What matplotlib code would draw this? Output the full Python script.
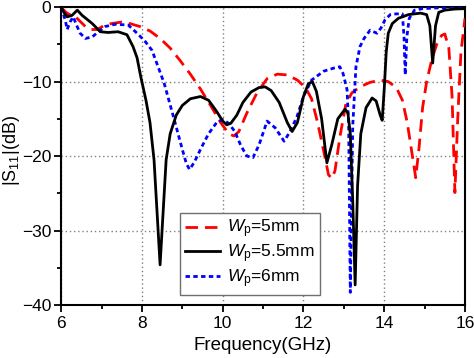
import matplotlib
matplotlib.use("Agg")
import matplotlib.pyplot as plt
from matplotlib.ticker import MultipleLocator

plt.rcParams['font.family'] = ['Liberation Sans', 'DejaVu Sans']
plt.rcParams['mathtext.fontset'] = 'custom'
plt.rcParams['mathtext.it'] = 'Liberation Sans:italic'
plt.rcParams['mathtext.rm'] = 'Liberation Sans'

# Wp = 5 mm (red dashed)
freq_5 = [6.0, 6.1, 6.2, 6.3, 6.45, 6.6, 6.75, 6.9, 7.05, 7.25, 7.5, 7.7, 7.95, 8.2,
          8.45, 8.7, 8.95, 9.2, 9.45, 9.7, 9.95, 10.15, 10.28, 10.4, 10.6, 10.85,
          11.1, 11.35, 11.6, 11.85, 12.05, 12.2, 12.35, 12.5, 12.62, 12.7, 12.78,
          12.9, 13.05, 13.2, 13.4, 13.65, 13.9, 14.1, 14.3, 14.45, 14.57, 14.67,
          14.78, 14.86, 14.95, 15.05, 15.18, 15.3, 15.42, 15.5, 15.6, 15.68, 15.75,
          15.82, 15.9, 16.0]
s11_5 = [0, -0.6, -1.0, -1.0, -1.8, -2.6, -3.0, -3.0, -2.5, -2.2, -2.0, -2.2, -2.6,
         -3.2, -4.2, -5.5, -7.2, -9.0, -11.0, -13.2, -15.5, -17.0, -17.3, -16.7,
         -14.2, -11.5, -9.6, -9.0, -9.1, -9.8, -10.8, -12.3, -15.5, -19.3, -22.5,
         -23.0, -22.0, -17.5, -13.0, -11.5, -10.7, -10.1, -9.8, -10.0, -10.8, -12.5,
         -15.5, -19.0, -22.9, -19.0, -13.5, -10.0, -7.0, -5.0, -3.8, -3.6, -5.5,
         -12.0, -24.9, -15.0, -6.0, -1.5]

# Wp = 5.5 mm (black solid)
freq_55 = [6.0, 6.08, 6.15, 6.27, 6.4, 6.52, 6.77, 6.97, 7.16, 7.41, 7.63, 7.78,
           7.88, 7.97, 8.1, 8.2, 8.3, 8.38, 8.45, 8.52, 8.6, 8.7, 8.85, 9.0, 9.2,
           9.45, 9.65, 9.85, 10.0, 10.1, 10.2, 10.35, 10.5, 10.7, 10.9, 11.05, 11.2,
           11.4, 11.6, 11.72, 11.85, 12.0, 12.12, 12.22, 12.32, 12.45, 12.58, 12.7,
           12.85, 13.03, 13.1, 13.16, 13.22, 13.28, 13.34, 13.42, 13.55, 13.7, 13.8,
           13.9, 13.95, 14.0, 14.05, 14.1, 14.2, 14.35, 14.6, 14.9, 15.05, 15.13,
           15.2, 15.27, 15.35, 15.5, 15.75, 16.0]
s11_55 = [0, -0.8, -1.3, -1.1, -0.4, -1.1, -2.2, -3.3, -3.4, -3.3, -3.7, -5.3, -6.8,
          -9.3, -12.5, -15.5, -20.5, -28.0, -34.6, -28.0, -20.5, -17.0, -14.5,
          -13.2, -12.3, -12.0, -12.5, -14.0, -15.3, -15.8, -15.6, -14.5, -12.8,
          -11.4, -10.8, -10.7, -11.2, -12.8, -15.5, -16.7, -15.5, -12.0, -10.3,
          -10.0, -11.3, -15.0, -20.9, -18.5, -15.0, -13.7, -14.2, -17.0, -26.0,
          -37.3, -24.0, -17.0, -13.5, -12.2, -12.6, -14.5, -15.2, -11.0, -6.0, -3.5,
          -2.2, -1.5, -1.0, -0.8, -1.0, -2.5, -7.5, -2.5, -0.7, -0.4, -0.25, -0.2]

# Wp = 6 mm (blue dotted)
freq_6 = [6.0, 6.1, 6.15, 6.22, 6.3, 6.38, 6.47, 6.6, 6.77, 6.92, 7.09, 7.34, 7.66,
          7.88, 8.08, 8.25, 8.4, 8.55, 8.78, 9.0, 9.1, 9.18, 9.3, 9.45, 9.65, 9.85,
          10.0, 10.15, 10.3, 10.45, 10.6, 10.75, 10.9, 11.1, 11.3, 11.52, 11.67,
          11.84, 12.0, 12.2, 12.5, 12.74, 12.9, 12.98, 13.08, 13.12, 13.16, 13.22,
          13.3, 13.4, 13.5, 13.65, 13.82, 13.92, 14.02, 14.15, 14.3, 14.45, 14.49,
          14.52, 14.56, 14.62, 14.75, 14.95, 15.3, 16.0]
s11_6 = [0, -1.7, -3.0, -2.0, -1.3, -2.4, -3.5, -4.2, -4.0, -3.3, -2.6, -2.3, -2.4,
         -3.5, -4.6, -5.8, -8.0, -10.2, -14.7, -19.1, -21.0, -21.8, -20.8, -19.1,
         -17.0, -15.5, -15.1, -15.6, -16.7, -18.6, -20.0, -20.2, -18.5, -15.3,
         -16.2, -18.0, -16.7, -14.7, -12.0, -9.8, -8.6, -8.2, -8.0, -8.9, -11.1,
         -16.0, -38.3, -16.0, -8.0, -5.3, -4.2, -3.1, -3.5, -2.8, -1.7, -1.0, -0.9,
         -0.9, -4.0, -9.1, -4.0, -1.5, -0.4, -0.2, -0.1, -0.1]

labels = [r'$W_{\mathrm{p}}$=5mm', r'$W_{\mathrm{p}}$=5.5mm', r'$W_{\mathrm{p}}$=6mm']
x_ticks = [6, 8, 10, 12, 14, 16]
y_ticks = [0, -10, -20, -30, -40]

fig = plt.figure(figsize=(4.74, 3.58), dpi=100)
ax = fig.add_axes([0.129, 0.148, 0.852, 0.832])

ax.plot(freq_5, s11_5, color='#ff0000', lw=2.0, linestyle=(0, (4.5, 2.5)),
        label=labels[0], zorder=3)
ax.plot(freq_55, s11_55, color='black', lw=2.0, linestyle='-', label=labels[1], zorder=4)
ax.plot(freq_6, s11_6, color='#0000ff', lw=2.0, linestyle=(0, (1.6, 1.2)),
        label=labels[2], zorder=3)

ax.set_xlim(6, 16)
ax.set_ylim(-40, 0)
ax.set_xticks(x_ticks)
ax.set_yticks(y_ticks)
ax.xaxis.set_minor_locator(MultipleLocator(1))
ax.yaxis.set_minor_locator(MultipleLocator(5))
ax.tick_params(which='major', direction='out', length=5, width=1.3, labelsize=12.5,
               top=False, right=False)
ax.tick_params(which='minor', direction='out', length=3, width=1.3,
               top=False, right=False)
ax.tick_params(axis='x', pad=3)
ax.tick_params(axis='y', pad=2)
for sp in ax.spines.values():
    sp.set_linewidth(1.5)

ax.grid(True, which='major', color='#808080', linestyle=(0, (1, 2)), linewidth=1.0)

ax.set_xlabel('Frequency(GHz)', fontsize=13.5, labelpad=4)
ax.set_ylabel(r'|S$_{11}$|(dB)', fontsize=13)
ax.yaxis.set_label_coords(-0.098, 0.52)

leg = ax.legend(loc='lower left', bbox_to_anchor=(0.295, 0.034), fontsize=12.5,
                frameon=True, fancybox=False, edgecolor='#707070', framealpha=1,
                handlelength=2.0, borderpad=0.3, labelspacing=0.12,
                handletextpad=0.4, borderaxespad=0)
leg.get_frame().set_linewidth(1.0)

fig.savefig('out.png', dpi=100)
